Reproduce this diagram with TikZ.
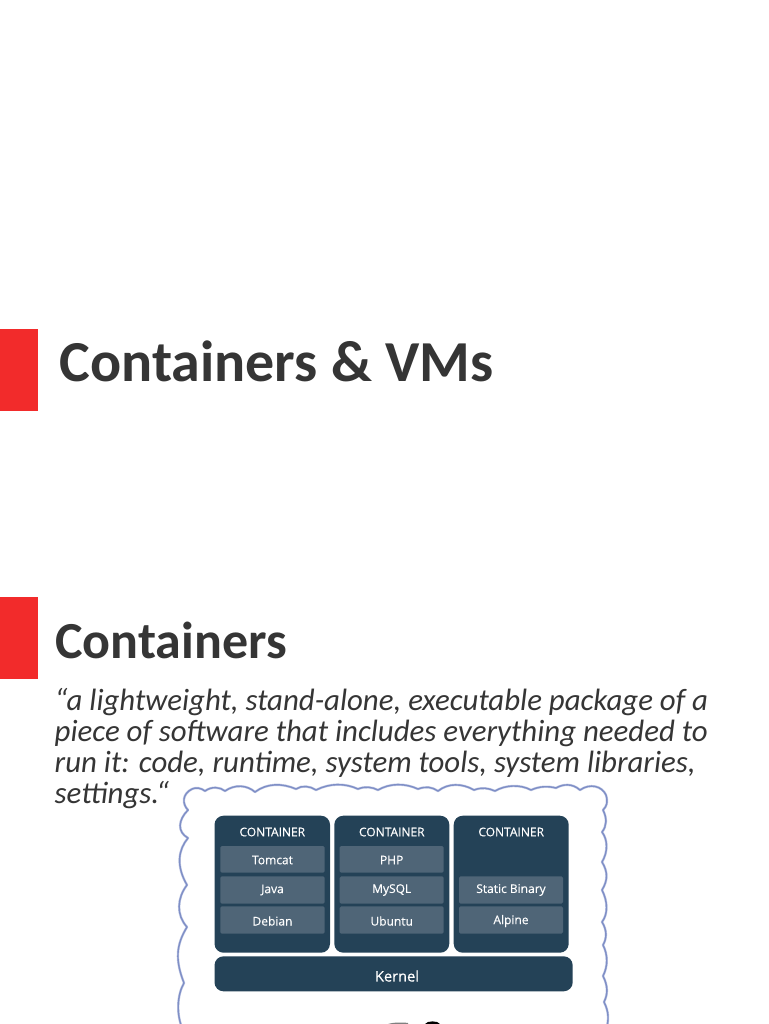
\documentclass[tikz,border=0pt]{standalone}
\usepackage{fontspec}
\setmainfont{Carlito}
\newfontfamily\diagfont[FakeBold=0.3]{Open Sans}
\definecolor{redbar}{HTML}{F22B2B}
\definecolor{ink}{HTML}{353535}
\definecolor{navy}{HTML}{244257}
\definecolor{slate}{HTML}{4F6577}
\definecolor{cloudblue}{HTML}{7F8FC6}
\definecolor{cloudpale}{HTML}{C3CBE6}
\tikzset{
  heading/.style={anchor=base west,inner sep=0pt,text=ink,font=\fontsize{#1}{#1}\selectfont\bfseries},
  quote/.style={anchor=base west,inner sep=0pt,text=ink,font=\fontsize{30.85}{31}\selectfont\itshape},
  shell/.style={fill=navy,draw=none,rounded corners=9pt},
  layer/.style={fill=slate,draw=none,rounded corners=1.5pt},
  boxtext/.style={anchor=center,inner sep=0pt,text=white,font=\diagfont\fontsize{#1}{#1}\selectfont},
  cloudline/.style={line cap=round,line join=round}
}
\newcommand{\cloudpathtop}{
 (188,810) .. controls (182,804) and (182,794) .. (192,789)
 .. controls (196,787) and (201,788) .. (205,791)
 .. controls (212,786) and (220,787) .. (225,791)
 .. controls (235,784) and (247,785) .. (255,792)
 .. controls (267,783) and (282,783) .. (296,789)
 .. controls (302,785) and (310,786) .. (316,790)
 .. controls (330,783) and (345,783) .. (358,789)
 .. controls (365,786) and (372,787) .. (378,790)
 .. controls (390,783) and (405,783) .. (418,789)
 .. controls (426,786) and (432,787) .. (438,791)
 .. controls (448,783) and (462,783) .. (474,790)
 .. controls (482,787) and (488,788) .. (495,791)
 .. controls (505,785) and (520,784) .. (531,790)
 .. controls (540,786) and (548,786) .. (556,788)
 .. controls (563,784) and (572,783) .. (580,790)
 .. controls (590,783) and (602,786) .. (606,795)
 .. controls (608,802) and (607,806) .. (603,810)
 .. controls (607,818) and (607,826) .. (602,832)
 .. controls (608,840) and (608,852) .. (602,862)
 .. controls (608,872) and (608,880) .. (602,890)
 .. controls (608,902) and (608,914) .. (602,922)
 .. controls (607,930) and (607,938) .. (603,945)
 .. controls (608,955) and (608,966) .. (603,976)
 .. controls (608,986) and (608,994) .. (604,1002)
 .. controls (609,1012) and (609,1020) .. (606,1030)
}
\newcommand{\cloudpathleft}{
 (188,810) .. controls (178,820) and (177,832) .. (188,838)
 .. controls (178,850) and (176,866) .. (187,885)
 .. controls (177,898) and (176,915) .. (187,927)
 .. controls (176,945) and (175,960) .. (184,983)
 .. controls (177,995) and (176,1015) .. (183,1030)
}
\begin{document}
\begin{tikzpicture}[x=1pt,y=-1pt]
\useasboundingbox (0,0) rectangle (768,1024);
\clip (0,0) rectangle (768,1024);
\fill[white] (0,0) rectangle (768,1024);

\fill[redbar] (0,329) rectangle (38,411);
\fill[redbar] (0,597) rectangle (38,679);
\node[heading=58] (title) at (59.5,381) {Containers \& VMs};
\node[heading=52] (sub) at (55,658) {Containers};
\node[quote] (q1) at (54.5,710) {“a lightweight, stand-alone, executable package of a};
\node[quote] (q2) at (54.5,741) {piece of software that includes everything needed to};
\node[quote] (q3) at (54.5,772) {run it: code, runtime, system tools, system libraries,};
\node[quote] (q4) at (54.5,803) {settings.“};

% cloud outline
\draw[cloudline,draw=cloudpale,line width=2.4pt] \cloudpathtop;
\draw[cloudline,draw=cloudpale,line width=2.4pt] \cloudpathleft;
\draw[cloudline,draw=cloudblue,line width=1.4pt] \cloudpathtop;
\draw[cloudline,draw=cloudblue,line width=1.4pt] \cloudpathleft;

% containers
\fill[shell] (214.5,815.7) rectangle (330,952.7);
\fill[shell] (334.3,815.7) rectangle (449.3,952.7);
\fill[shell] (453.7,815.7) rectangle (568.7,952.7);
\fill[shell] (214.5,956.3) rectangle (572.7,991.3);

\foreach \xa/\xb/\lab/\la/\lb/\lc in {220.3/324.7/c1/Tomcat/Java/Debian,339.7/443.7/c2/PHP/MySQL/Ubuntu}{
  \fill[layer] (\xa,846) rectangle (\xb,872.7);
  \fill[layer] (\xa,876.3) rectangle (\xb,903.7);
  \fill[layer] (\xa,906.3) rectangle (\xb,933.7);
  \node[boxtext=12] (\lab a) at ({(\xa+\xb)/2},860) {\la};
  \node[boxtext=12] (\lab b) at ({(\xa+\xb)/2},890) {\lb};
  \node[boxtext=12] (\lab c) at ({(\xa+\xb)/2},921) {\lc};
}
\fill[layer] (459,876.3) rectangle (563,903.7);
\fill[layer] (459,906.3) rectangle (563,933.7);
\node[boxtext=12] (c3b) at (511,890) {Static Binary};
\node[boxtext=12] (c3c) at (511,921) {Alpine};
\node[boxtext=12] (h1) at (272.3,832) {CONTAINER};
\node[boxtext=12] (h2) at (391.8,832) {CONTAINER};
\node[boxtext=12] (h3) at (511.2,832) {CONTAINER};
\node[boxtext=14.6] (kernel) at (397,976) {Kernel};

% cut-off picture at the page's foot
\fill[black!50] (388,1024) .. controls (392,1022.5) and (402,1022) .. (408,1023) -- (408,1024) -- cycle;
\fill[black] (425,1024) .. controls (427,1020.5) and (438,1020.5) .. (440,1024) -- cycle;
\end{tikzpicture}
\end{document}
